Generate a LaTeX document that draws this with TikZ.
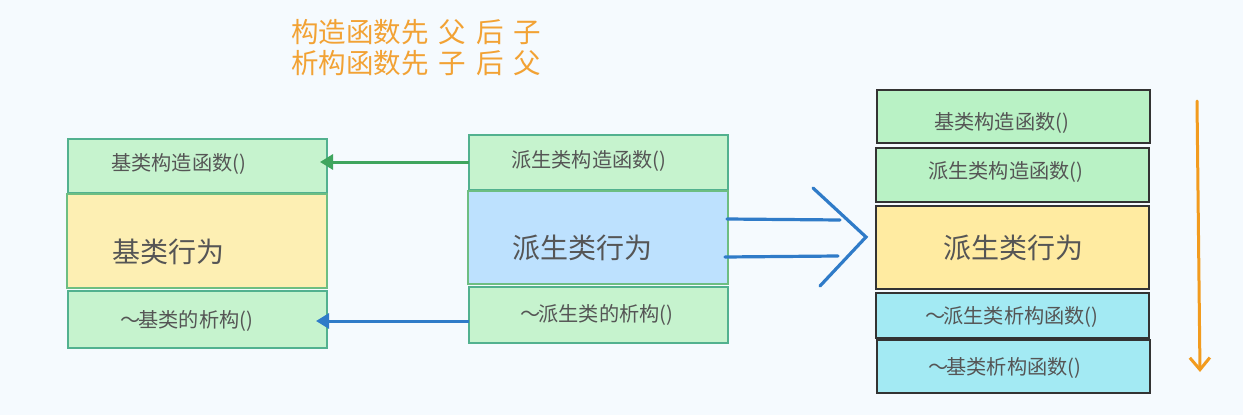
\documentclass[tikz,border=0pt]{standalone}
\usepackage{fontspec}
\setmainfont{Noto Sans CJK SC}
\usetikzlibrary{arrows.meta}
\definecolor{bgc}{HTML}{F5FAFE}
\definecolor{lgreen}{HTML}{C6F3CE}
\definecolor{rgreen}{HTML}{B9F2C5}
\definecolor{lyellow}{HTML}{FDEFB3}
\definecolor{ryellow}{HTML}{FFEBA1}
\definecolor{mblue}{HTML}{BDE1FE}
\definecolor{rcyan}{HTML}{A3EAF3}
\definecolor{teal}{HTML}{52B18F}
\definecolor{gborder}{HTML}{6DBE82}
\definecolor{txtc}{HTML}{555555}
\definecolor{dark}{HTML}{333333}
\definecolor{orangec}{HTML}{F29B1E}
\definecolor{titlec}{HTML}{F2A234}
\definecolor{arrgreen}{HTML}{3FA55E}
\definecolor{arrblue}{HTML}{2F7BC8}
\newcommand{\tl}{～\kern-2pt}
\newcommand{\gsp}{\hspace{10pt}}
\tikzset{
  lbox/.style={draw=teal, line width=1.6pt},
  rbox/.style={draw=dark, line width=2pt},
  txt/.style={anchor=west, inner sep=0pt, text=txtc, font=\fontsize{20.2}{23}\selectfont},
  bigtxt/.style={anchor=west, inner sep=0pt, text=txtc, font=\fontsize{28}{32}\selectfont},
  title/.style={anchor=west, inner sep=0pt, text=titlec, font=\fontsize{27.5}{32}\selectfont},
}
\begin{document}
\begin{tikzpicture}[x=1pt,y=-1pt]
\useasboundingbox (0,0) rectangle (1243,415);
\fill[bgc] (0,0) rectangle (1243,415);

% title
\node[title] (t1) at (291,32) {构造函数先\gsp 父\gsp 后\gsp 子};
\node[title] (t2) at (291,63) {析构函数先\gsp 子\gsp 后\gsp 父};

% left column
\draw[lbox, fill=lgreen] (68,139) rectangle (327,193);
\coordinate (bctorE) at (327,166);
\draw[lbox, draw=gborder, fill=lyellow] (67,194) rectangle (327,288);
\draw[lbox, fill=lgreen] (68,291) rectangle (327,348);
\coordinate (bdtorE) at (327,321);
\node[txt] (bctor) at (111,164) {基类构造函数()};
\node[bigtxt] (bbeh) at (112,252) {基类行为};
\node[txt] (bdtor) at (120,321) {\tl 基类的析构()};

% middle column
\draw[lbox, fill=lgreen] (469,135) rectangle (728,190);
\coordinate (dctorW) at (469,162);
\draw[lbox, draw=gborder, fill=mblue] (468,191) rectangle (728,284);
\draw[lbox, fill=lgreen] (469,287) rectangle (728,343);
\coordinate (ddtorW) at (469,321);
\node[txt] (dctor) at (511,161) {派生类构造函数()};
\node[bigtxt] (dbeh) at (512,248) {派生类行为};
\node[txt] (ddtor) at (520,315) {\tl 派生类的析构()};

% connectors
\draw[arrgreen, line width=3pt, -{Triangle[length=13pt,width=15pt]}] (dctorW) -- (dctorW -| 320,0);
\draw[arrblue, line width=3pt, -{Triangle[length=13pt,width=15pt]}] (ddtorW) -- (ddtorW -| 316,0);

% big double arrow
\draw[arrblue, line width=3.2pt, line cap=round] (727,219) -- (840,220);
\draw[arrblue, line width=3.2pt, line cap=round] (725,257) -- (838,256);
\draw[arrblue, line width=3.2pt, line cap=round, line join=miter] (813,188) -- (866,237) -- (820,286);

% right column
\draw[rbox, fill=rgreen] (877,90) rectangle (1150,143);
\draw[rbox, fill=rgreen] (876,148) rectangle (1149,202);
\draw[rbox, fill=ryellow] (876,206) rectangle (1149,289);
\draw[rbox, fill=rcyan] (876,293) rectangle (1149,338);
\draw[rbox, fill=rcyan] (877,340) rectangle (1150,393);
\node[txt] (r1) at (934,123) {基类构造函数()};
\node[txt] (r2) at (928,172) {派生类构造函数()};
\node[bigtxt] (r3) at (943,248) {派生类行为};
\node[txt] (r4) at (925,317) {\tl 派生类析构函数()};
\node[txt] (r5) at (928,368) {\tl 基类析构函数()};

% orange arrow
\coordinate (oa) at (1197,101);
\coordinate (ob) at (1200,372);
\draw[orangec, line width=3pt, line cap=round, -{Straight Barb[length=12pt,width=20pt,line width=3pt]}] (oa) -- (ob);
\end{tikzpicture}
\end{document}
